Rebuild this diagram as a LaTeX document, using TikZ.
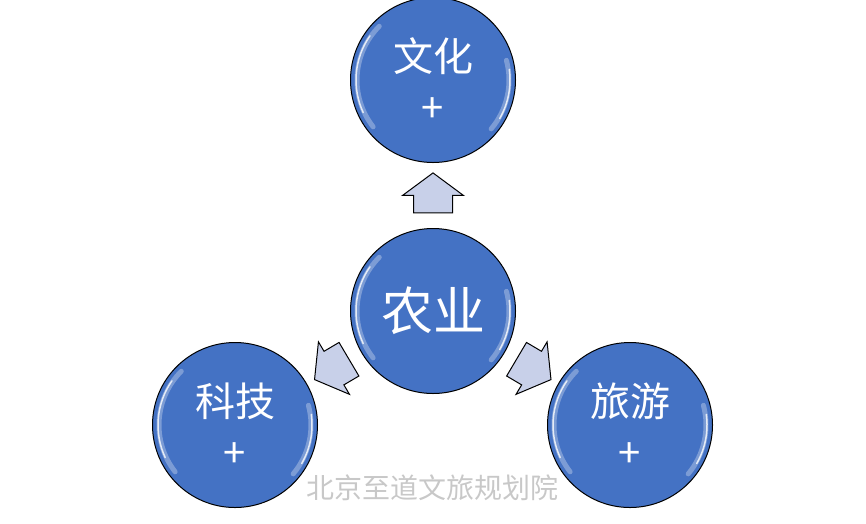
\documentclass[tikz,border=0pt]{standalone}
\usepackage{fontspec}
\newfontfamily\cjk{Noto Sans CJK SC}
\usepackage{tikz}
\usetikzlibrary{shapes.arrows,calc}
\definecolor{ballblue}{RGB}{68,114,196}
\definecolor{arrowfill}{RGB}{200,208,233}
\definecolor{markgray}{RGB}{200,200,200}

\begin{document}
\begin{tikzpicture}[x=1pt,y=1pt,
  ball/.style={circle, draw=black, line width=1pt, fill=ballblue, text=white,
    align=center, inner sep=0pt, minimum size=165pt},
  blockarrow/.style={single arrow, draw=black, line width=1pt, fill=arrowfill,
    inner xsep=0pt, inner ysep=19pt, minimum height=40pt,
    single arrow head extend=11pt, single arrow tip angle=107},
  glow/.style={white, opacity=0.3, line width=5pt, line cap=round},
  glint/.style={white, opacity=0.8, line width=1.5pt, line cap=round}]
  \useasboundingbox (0,0) rectangle (866,-523);
  % 四个圆
  \node[ball, font=\cjk\fontsize{52}{60}\selectfont] (nongye) at (433,-311) {农业};
  \node[ball, font=\cjk\fontsize{40}{51}\selectfont] (wenhua) at (433,-80) {文化\\+};
  \node[ball, font=\cjk\fontsize{40}{51}\selectfont] (keji) at (235,-425) {科技\\+};
  \node[ball, font=\cjk\fontsize{40}{51}\selectfont] (lvyou) at (630,-425) {旅游\\+};
  % 高光
  \foreach \b in {nongye,wenhua,keji,lvyou}{
    \draw[glow] ([shift={(135:76)}]\b.center) arc (135:218:76);
    \draw[glint] ([shift={(145:77)}]\b.center) arc (145:205:77);
    \draw[glow] ([shift={(-40:76)}]\b.center) arc (-40:15:76);
    \draw[glint] ([shift={(-30:77)}]\b.center) arc (-30:8:77);
  }
  % 箭头
  \node[blockarrow, rotate=90] (upa) at ($(nongye)!0.48!(wenhua)$) {};
  \node[blockarrow, rotate=210.6] (lefta) at ($(nongye)!0.48!(keji)$) {};
  \node[blockarrow, rotate=-30.6] (righta) at ($(nongye)!0.48!(lvyou)$) {};
  % 水印
  \node[font=\cjk\fontsize{28}{30}\selectfont, text=markgray] (mark) at (432,-488) {北京至道文旅规划院};
\end{tikzpicture}
\end{document}
